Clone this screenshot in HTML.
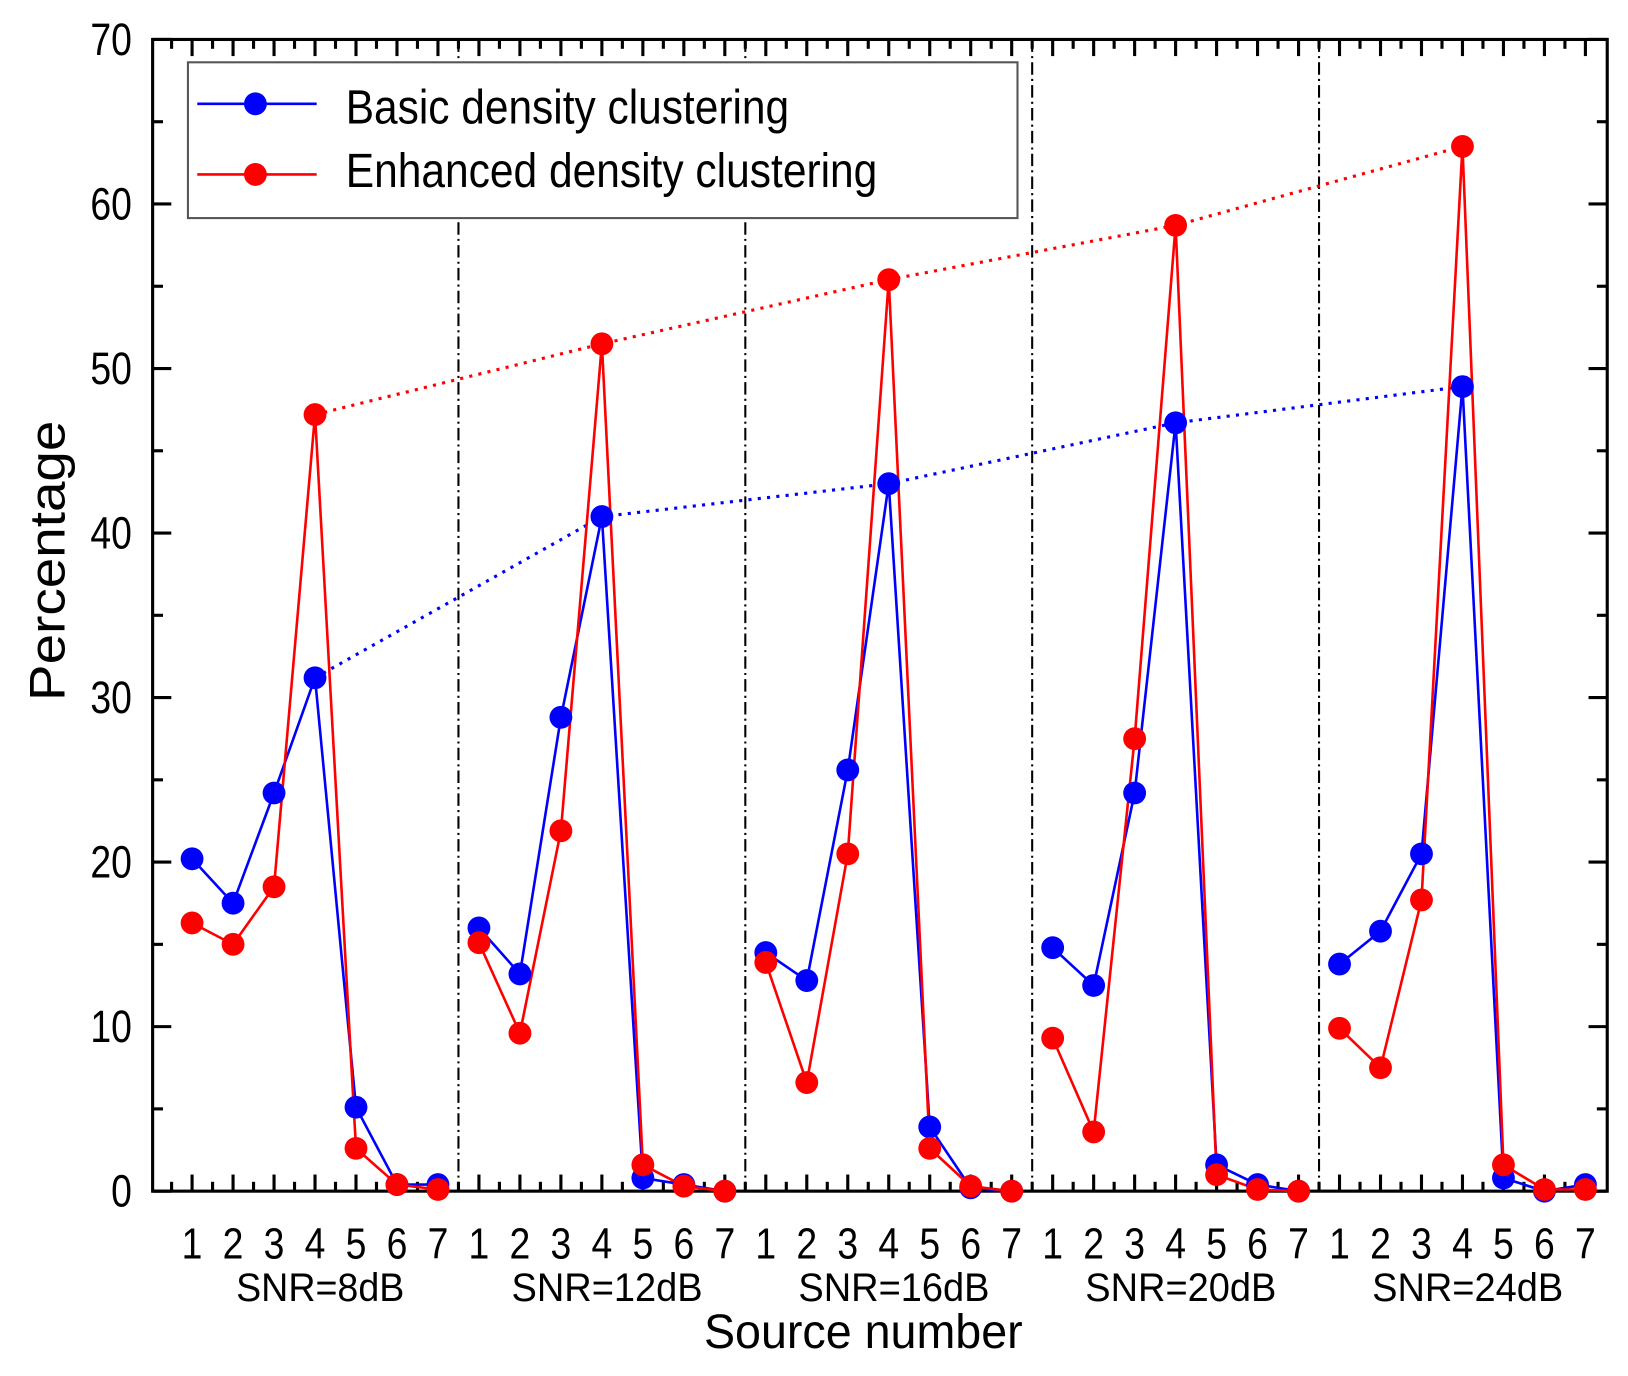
<!DOCTYPE html>
<html><head><meta charset="utf-8"><style>html,body{margin:0;padding:0;background:#fff}svg{display:block}</style></head>
<body>
<svg id="s" width="1628" height="1376" viewBox="0 0 1568 1325" preserveAspectRatio="none" xmlns="http://www.w3.org/2000/svg" font-family="Liberation Sans, Arial, sans-serif">
</svg>
<script>
const s=document.getElementById('s');
const X0=147,X1=1548,Y0=38,Y1=1147;
const px=i=>185+i*39.47, py=v=>Y1-v*(Y1-Y0)/70;
let h='';
h+=`<rect x="${X0}" y="${Y0}" width="${X1-X0}" height="${Y1-Y0}" fill="none" stroke="#000" stroke-width="3"/>`;
for(let v=0;v<=70;v+=5){const y=py(v),L=v%10==0?18:10;
h+=`<line x1="${X0}" y1="${y}" x2="${X0+L}" y2="${y}" stroke="#000" stroke-width="3"/><line x1="${X1}" y1="${y}" x2="${X1-L}" y2="${y}" stroke="#000" stroke-width="3"/>`;
if(v%10==0)h+=`<text x="${X0-20}" y="${y+15}" font-size="44" text-anchor="end" textLength="${v==0?20:40}" lengthAdjust="spacingAndGlyphs">${v}</text>`;}
for(let k=-1;k<=69;k++){const x=185+k*39.47/2;if(x<X0+2||x>X1-2)continue;const L=k%2==0?16:9;
h+=`<line x1="${x}" y1="${Y1}" x2="${x}" y2="${Y1-L}" stroke="#000" stroke-width="3"/><line x1="${x}" y1="${Y0}" x2="${x}" y2="${Y0+L}" stroke="#000" stroke-width="3"/>`;}
for(let i=0;i<35;i++)h+=`<text x="${px(i)-10}" y="1212" font-size="42" textLength="20" lengthAdjust="spacingAndGlyphs">${i%7+1}</text>`;
['SNR=8dB','SNR=12dB','SNR=16dB','SNR=20dB','SNR=24dB'].forEach((t,g)=>h+=`<text x="${px(g*7+3)+5}" y="1253" font-size="38" text-anchor="middle" textLength="${t.length==7?162:184}" lengthAdjust="spacingAndGlyphs">${t}</text>`);
h+=`<text x="678" y="1298" font-size="46" textLength="307" lengthAdjust="spacingAndGlyphs">Source number</text>`;
h+=`<text transform="translate(62,675) rotate(-90)" font-size="48" textLength="270" lengthAdjust="spacingAndGlyphs">Percentage</text>`;
for(let g=1;g<5;g++){const x=px(g*7-0.5);h+=`<line x1="${x}" y1="${Y0}" x2="${x}" y2="${Y1}" stroke="#000" stroke-width="2" stroke-dasharray="12,4,2,4"/>`;}
const B=[20.2,17.5,24.2,31.2,5.1,0.4,0.4, 16,13.2,28.8,41,0.8,0.4,0, 14.5,12.8,25.6,43,3.9,0.2,0, 14.8,12.5,24.2,46.7,1.6,0.4,0, 13.8,15.8,20.5,48.9,0.8,0,0.4];
const R=[16.3,15,18.5,47.2,2.6,0.4,0.1, 15.1,9.6,21.9,51.5,1.6,0.3,0, 13.9,6.6,20.5,55.4,2.6,0.3,0, 9.3,3.6,27.5,58.7,1,0.1,0, 9.9,7.5,17.7,63.5,1.6,0.1,0.1];
function series(D,c){let o='';
let pk=[];for(let g=0;g<5;g++)pk.push(px(g*7+3)+','+py(D[g*7+3]));
o+=`<polyline points="${pk.join(' ')}" fill="none" stroke="${c}" stroke-width="3" stroke-dasharray="3,6"/>`;
for(let g=0;g<5;g++){let p=[];for(let i=0;i<7;i++)p.push(px(g*7+i)+','+py(D[g*7+i]));o+=`<polyline points="${p.join(' ')}" fill="none" stroke="${c}" stroke-width="2.5"/>`;}
return o;}
function dots(D,c){let o='';D.forEach((v,i)=>o+=`<circle cx="${px(i)}" cy="${py(v)}" r="11" fill="${c}"/>`);return o;}
h+=series(B,'#0000ff')+series(R,'#ff0000')+dots(B,'#0000ff')+dots(R,'#ff0000');
h+=`<rect x="181" y="60" width="799" height="150" fill="#fff" stroke="#555" stroke-width="2"/>`;
h+=`<line x1="190" y1="100" x2="305" y2="100" stroke="#0000ff" stroke-width="2.5"/><circle cx="246" cy="100" r="11" fill="#0000ff"/>`;
h+=`<line x1="190" y1="168" x2="305" y2="168" stroke="#ff0000" stroke-width="2.5"/><circle cx="246" cy="168" r="11" fill="#ff0000"/>`;
h+=`<text x="333" y="119" font-size="46" textLength="427" lengthAdjust="spacingAndGlyphs">Basic density clustering</text><text x="333" y="180" font-size="46" textLength="512" lengthAdjust="spacingAndGlyphs">Enhanced density clustering</text>`;
s.innerHTML=h;
</script>
</body></html>
